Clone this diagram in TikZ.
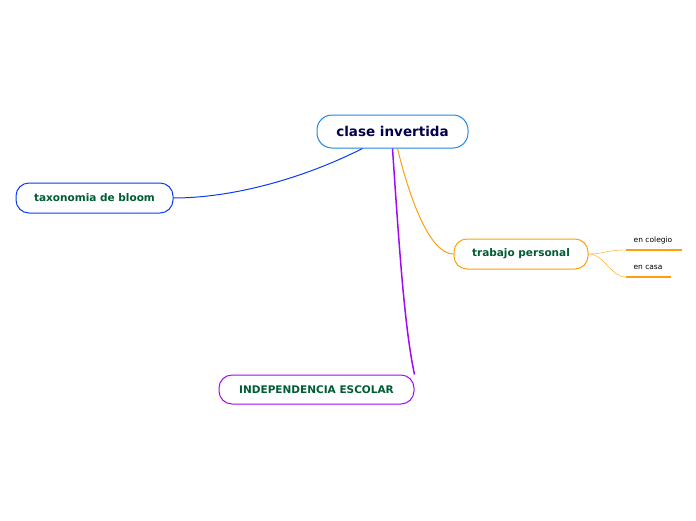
\documentclass[tikz,border=0pt]{standalone}
\usepackage{fontspec}
\setmainfont{DejaVu Sans}
\begin{document}
\begin{tikzpicture}[x=1pt,y=-1pt,
  topic/.style={draw,rounded corners=13pt,line width=1pt,fill=white,font=\bfseries\fontsize{10.5}{12}\selectfont,text=green!20!black!80!cyan,minimum height=30pt},
  leaf/.style={font=\fontsize{7.5}{8}\selectfont,inner sep=1pt}]
\useasboundingbox (0,0) rectangle (696,520);
\definecolor{cblue}{HTML}{1E88E5}
\definecolor{bblue}{HTML}{0A3CF5}
\definecolor{corange}{HTML}{FF9F0A}
\definecolor{cpurple}{HTML}{A10AF5}
\node[topic,draw=cblue,text=blue!30!black,font=\bfseries\fontsize{13.5}{15}\selectfont,minimum width=151pt,minimum height=33pt,rounded corners=15pt] (root) at (392.5,131.5) {clase invertida};
\node[topic,draw=bblue,minimum width=157pt] (tax) at (94.5,198) {taxonomia de bloom};
\node[topic,draw=corange,minimum width=134pt] (tp) at (521,254) {trabajo personal};
\node[topic,draw=cpurple,minimum width=195pt,minimum height=29pt] (ind) at (316.5,389.5) {INDEPENDENCIA ESCOLAR};
\node[leaf] (col) at (653,240) {en colegio};
\node[leaf] (casa) at (648,267) {en casa};
\coordinate (c1a) at (626,250); \coordinate (c1b) at (682,250);
\coordinate (c2a) at (626,277); \coordinate (c2b) at (671,277);
\draw[bblue,line width=1pt] (root.south west)++(46,0) .. controls (300,180) and (230,198) .. (tax.east);
\draw[corange,line width=1pt] (root.south)++(5,0) .. controls (410,200) and (430,254) .. (tp.west);
\draw[cpurple,line width=1.5pt] (root.south) .. controls (400,260) and (405,330) .. (ind.north east);
\draw[corange,line width=0.4pt] (tp.east) .. controls (605,254) and (605,250) .. (c1a);
\draw[corange,line width=0.4pt] (tp.east) .. controls (605,254) and (610,277) .. (c2a);
\draw[corange,line width=1.5pt] (c1a) -- (c1b);
\draw[corange,line width=1.5pt] (c2a) -- (c2b);
\end{tikzpicture}
\end{document}
